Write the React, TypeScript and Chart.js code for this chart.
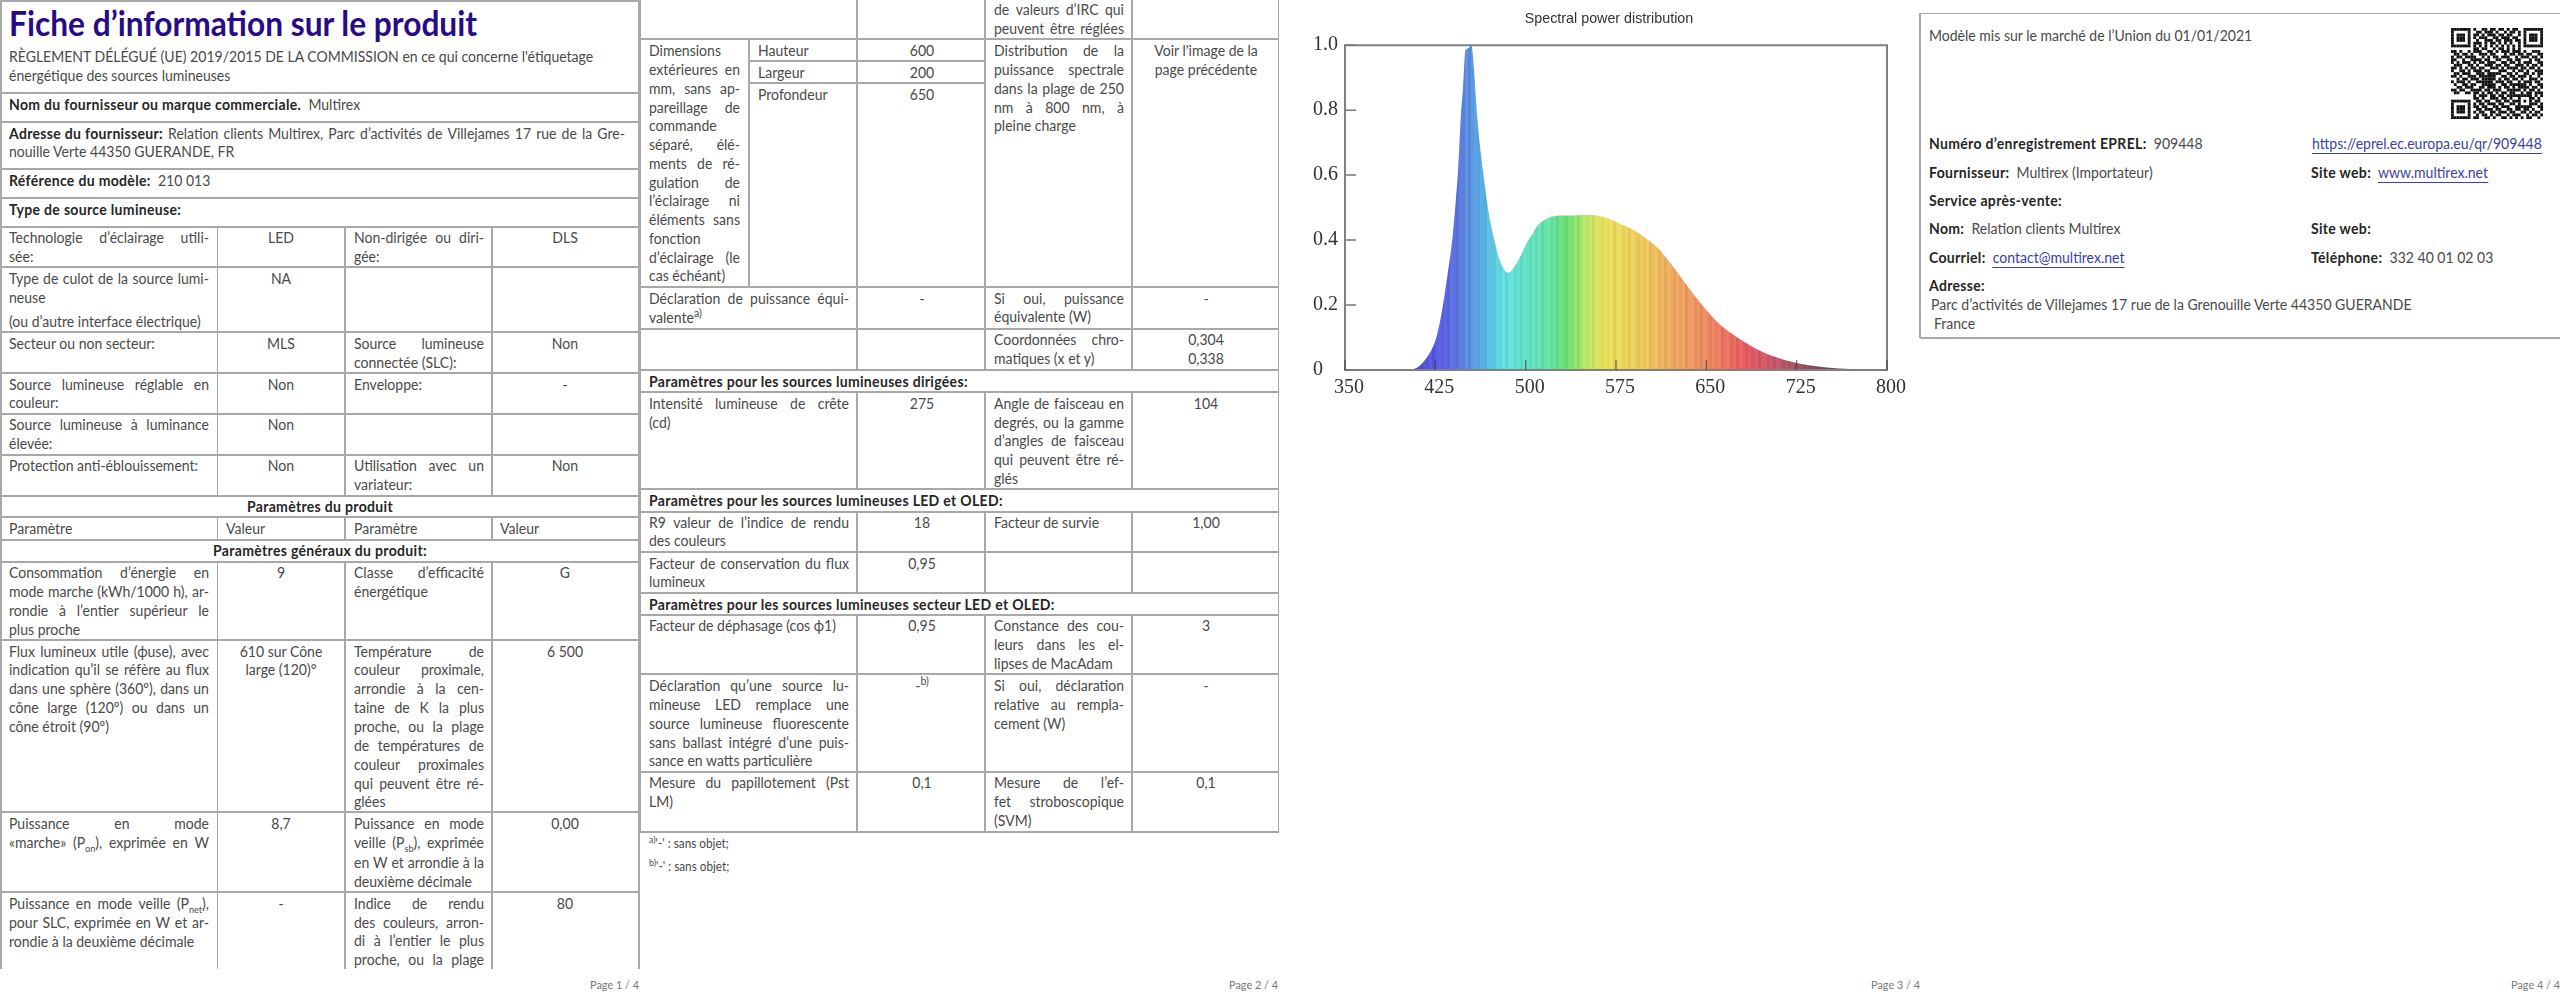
import React, { useEffect, useRef } from "react";
import { Chart, registerables } from "chart.js";

Chart.register(...registerables);

// ---- Chart data ----
const chartTitle = "Spectral power distribution";
const wavelengths = [350, 380, 400, 405, 410, 415, 420, 425, 430, 435, 439, 442, 444, 446, 448, 450, 452, 455, 457, 460, 463, 465, 468, 471, 474, 477, 480, 483, 485, 487, 490, 495, 500, 505, 510, 515, 520, 530, 540, 550, 560, 570, 580, 590, 600, 610, 620, 630, 640, 650, 660, 670, 680, 690, 700, 710, 720, 730, 740, 750, 760, 770, 780, 790, 800];
const powers = [0, 0, 0.001, 0.002, 0.008, 0.025, 0.05, 0.09, 0.17, 0.29, 0.4, 0.523, 0.62, 0.77, 0.87, 0.985, 0.99, 1, 0.93, 0.77, 0.66, 0.6, 0.515, 0.45, 0.4, 0.355, 0.325, 0.305, 0.3, 0.302, 0.315, 0.345, 0.385, 0.415, 0.445, 0.46, 0.47, 0.476, 0.476, 0.478, 0.475, 0.465, 0.447, 0.43, 0.405, 0.375, 0.33, 0.28, 0.23, 0.185, 0.145, 0.115, 0.09, 0.068, 0.05, 0.037, 0.026, 0.018, 0.012, 0.008, 0.005, 0.003, 0.001, 0, 0];
const xTicks = [350, 425, 500, 575, 650, 725, 800];
const yTicks = [0, 0.2, 0.4, 0.6, 0.8, 1];
const bandWavelengths = [400, 425, 440, 450, 462, 475, 485, 500, 520, 535, 550, 565, 585, 605, 625, 650, 670, 685, 705, 730, 780];
const bandColours = ["#4a44c8", "#5a5be2", "#5c6fe0", "#5c86dc", "#58a8e2", "#5fd0e2", "#66e0de", "#62e0c4", "#68e0a4", "#6ce070", "#bce66a", "#e8e05c", "#ecd35c", "#ecbf5e", "#eca862", "#ec8a62", "#ea7060", "#e65a62", "#c85a6a", "#985060", "#603840"];
const stripeShades = [0, -7, 3, -3, 6, -9, 1, 4, -5, 2, -8, 5];

// ---- Document text ----
const heading = "Fiche d’information sur le produit";
const introLines = ["RÈGLEMENT DÉLÉGUÉ (UE) 2019/2015 DE LA COMMISSION en ce qui concerne l'étiquetage", "énergétique des sources lumineuses"];

type Row = [number, string, string];
// [y, kind, text] kind: L left, J justified, C centred
const page1Col1: Row[] = [
  [237, "J", "Technologie d’éclairage utili-"], [256, "L", "sée:"],
  [278, "J", "Type de culot de la source lumi-"], [297, "L", "neuse"], [321, "L", "(ou d’autre interface électrique)"],
  [343, "L", "Secteur ou non secteur:"],
  [384, "J", "Source lumineuse réglable en"], [402, "L", "couleur:"],
  [424, "J", "Source lumineuse à luminance"], [443, "L", "élevée:"],
  [465, "L", "Protection anti-éblouissement:"],
  [528, "L", "Paramètre"],
  [572, "J", "Consommation d’énergie en"], [591, "J", "mode marche (kWh/1000 h), ar-"], [610, "J", "rondie à l’entier supérieur le"], [629, "L", "plus proche"],
  [651, "J", "Flux lumineux utile (ϕuse), avec"], [669, "J", "indication qu’il se réfère au flux"], [688, "J", "dans une sphère (360º), dans un"], [707, "J", "cône large (120º) ou dans un"], [726, "L", "cône étroit (90º)"],
  [823, "J", "Puissance en mode"], [842, "J", "«marche» (P_on_), exprimée en W"],
  [903, "J", "Puissance en mode veille (P_net_),"], [922, "J", "pour SLC, exprimée en W et ar-"], [941, "L", "rondie à la deuxième décimale"],
];
const page1Col2: Row[] = [
  [237, "C", "LED"], [278, "C", "NA"], [343, "C", "MLS"], [384, "C", "Non"], [424, "C", "Non"], [465, "C", "Non"],
  [572, "C", "9"], [651, "C", "610 sur Cône"], [669, "C", "large (120)°"], [823, "C", "8,7"], [903, "C", "-"],
];
const page1Col3: Row[] = [
  [237, "J", "Non-dirigée ou diri-"], [256, "L", "gée:"],
  [343, "J", "Source lumineuse"], [362, "L", "connectée (SLC):"],
  [384, "L", "Enveloppe:"],
  [465, "J", "Utilisation avec un"], [484, "L", "variateur:"],
  [528, "L", "Paramètre"],
  [572, "J", "Classe d’efficacité"], [591, "L", "énergétique"],
  [651, "J", "Température de"], [669, "J", "couleur proximale,"], [688, "J", "arrondie à la cen-"], [707, "J", "taine de K la plus"], [726, "J", "proche, ou la plage"], [745, "J", "de températures de"], [764, "J", "couleur proximales"], [783, "J", "qui peuvent être ré-"], [801, "L", "glées"],
  [823, "J", "Puissance en mode"], [842, "J", "veille (P_sb_), exprimée"], [862, "J", "en W et arrondie à la"], [881, "L", "deuxième décimale"],
  [903, "J", "Indice de rendu"], [922, "J", "des couleurs, arron-"], [940, "J", "di à l’entier le plus"], [959, "J", "proche, ou la plage"],
];
const page1Col4: Row[] = [
  [237, "C", "DLS"], [343, "C", "Non"], [384, "C", "-"], [465, "C", "Non"],
  [572, "C", "G"], [651, "C", "6 500"], [823, "C", "0,00"], [903, "C", "80"],
];
const page2Col1: Row[] = [
  [298, "J", "Déclaration de puissance équi-"], [317, "L", "valente^a)^"],
  [403, "J", "Intensité lumineuse de crête"], [422, "L", "(cd)"],
  [522, "J", "R9 valeur de l’indice de rendu"], [540, "L", "des couleurs"],
  [563, "J", "Facteur de conservation du flux"], [581, "L", "lumineux"],
  [625, "L", "Facteur de déphasage (cos ϕ1)"],
  [685, "J", "Déclaration qu’une source lu-"], [704, "J", "mineuse LED remplace une"], [723, "J", "source lumineuse fluorescente"], [742, "J", "sans ballast intégré d’une puis-"], [760, "L", "sance en watts particulière"],
  [782, "J", "Mesure du papillotement (Pst"], [801, "L", "LM)"],
];
const page2Narrow: Row[] = [
  [50, "L", "Dimensions"], [69, "J", "extérieures en"], [88, "J", "mm, sans ap-"], [107, "J", "pareillage de"], [125, "L", "commande"], [144, "J", "séparé, élé-"], [163, "J", "ments de ré-"], [182, "J", "gulation de"], [200, "J", "l’éclairage ni"], [219, "J", "éléments sans"], [238, "L", "fonction"], [257, "J", "d’éclairage (le"], [275, "L", "cas échéant)"],
];
const page2Sub: Row[] = [[50, "L", "Hauteur"], [72, "L", "Largeur"], [94, "L", "Profondeur"]];
const page2Col2: Row[] = [
  [50, "C", "600"], [72, "C", "200"], [94, "C", "650"], [298, "C", "-"], [403, "C", "275"], [522, "C", "18"], [563, "C", "0,95"], [625, "C", "0,95"], [685, "C", "-^b)^"], [782, "C", "0,1"],
];
const page2Col3: Row[] = [
  [9, "J", "de valeurs d’IRC qui"], [28, "J", "peuvent être réglées"],
  [50, "J", "Distribution de la"], [69, "J", "puissance spectrale"], [88, "J", "dans la plage de 250"], [107, "J", "nm à 800 nm, à"], [125, "L", "pleine charge"],
  [298, "J", "Si oui, puissance"], [316, "L", "équivalente (W)"],
  [339, "J", "Coordonnées chro-"], [358, "L", "matiques (x et y)"],
  [403, "J", "Angle de faisceau en"], [422, "J", "degrés, ou la gamme"], [440, "J", "d’angles de faisceau"], [459, "J", "qui peuvent être ré-"], [478, "L", "glés"],
  [522, "L", "Facteur de survie"],
  [625, "J", "Constance des cou-"], [644, "J", "leurs dans les el-"], [663, "L", "lipses de MacAdam"],
  [685, "J", "Si oui, déclaration"], [704, "J", "relative au rempla-"], [723, "L", "cement (W)"],
  [782, "J", "Mesure de l’ef-"], [801, "J", "fet stroboscopique"], [820, "L", "(SVM)"],
];
const page2Col4: Row[] = [
  [50, "C", "Voir l'image de la"], [69, "C", "page précédente"], [298, "C", "-"], [339, "C", "0,304"], [358, "C", "0,338"], [403, "C", "104"], [522, "C", "1,00"], [625, "C", "3"], [685, "C", "-"], [782, "C", "0,1"],
];
const qrRows = [
  "1111111 0100110110110101100 1111111",
  "1000001 0011011101001011010 1000001",
  "1011101 0110101110110110010 1011101",
  "1011101 0101110011011101100 1011101",
  "1011101 0010011101101110110 1011101",
  "1000001 0111010110101010010 1000001",
  "1111111 0101010101010101010 1111111",
  "000000001101100101101010100000000",
  "110100101110011010111011101001110",
  "011011010011101100010110110110011",
  "101101111001010110111001011101101",
  "110010011110110011001101100010110",
  "101011101011011100110110101110011",
  "011100110100111011011001110101101",
  "110101011011001110101111011011010",
  "100110101110110001110010110100111",
  "011011100111011111001101001101011",
  "110100111011111100110110111010010",
  "001011011101111101011011010011101",
  "101110100111111011101100101110110",
  "010011011001111100110111111010011",
  "001101110011011101011010111101101",
  "110110011110110111001111101011010",
  "011001101101011010110110010110111",
  "00000000 1011101101101111 11111 0101",
  "00000000 1101001110110100 10001 1010",
  "1111111 0 0110110011011011 10101 0110",
  "1000001 0 1011011101100110 10001 1101",
  "1011101 0 1101100110111001 11111 0011",
  "1011101 0 0110111011001101 101101001",
  "1011101 0 1011001101110110 011010110",
  "1000001 0 0101101011001011 100101101",
  "1111111 0 1100110100110101 010110010",
];

const FONT = "Lato, 'Noto Sans', sans-serif";
const SIZE = 15.5;
const SQUEEZE = 0.905;
const TEXT = "#4a4a4a";
const BOLD = "#262626";
const LINK = "#3b3fa8";
const RULE = "#a8a8a8";

function rich(text: string) {
  const parts = text.split(/(_\w+_|\^[^^]+\^)/).filter(Boolean);
  return parts.map((p, i) => {
    if (/^_\w+_$/.test(p)) return <sub key={i} style={{ fontSize: "0.65em", lineHeight: 0 }}>{p.slice(1, -1)}</sub>;
    if (/^\^.+\^$/.test(p)) return <sup key={i} style={{ fontSize: "0.75em", lineHeight: 0 }}>{p.slice(1, -1)}</sup>;
    return <React.Fragment key={i}>{p}</React.Fragment>;
  });
}

function Line(props: { x: number; y: number; children: any; center?: boolean; right?: boolean; style?: any }) {
  const { x, y, center, right, style } = props;
  return (
    <div
      style={{
        position: "absolute", left: x, top: y - 10, height: 20, lineHeight: "20px", whiteSpace: "pre",
        fontFamily: FONT, fontSize: SIZE, color: TEXT,
        transformOrigin: center ? "center" : right ? "right" : "left",
        transform: `${center ? "translateX(-50%) " : right ? "translateX(-100%) " : ""}scaleX(${SQUEEZE})`,
        ...style,
      }}
    >
      {props.children}
    </div>
  );
}

function justifiedStyle(x: number, y: number, w: number) {
  return {
    position: "absolute", left: x, top: y - 10, width: w / SQUEEZE, height: 20, lineHeight: "20px",
    display: "flex", justifyContent: "space-between", fontFamily: FONT, fontSize: SIZE, color: TEXT,
    whiteSpace: "pre", transformOrigin: "left", transform: `scaleX(${SQUEEZE})`,
  } as any;
}

function Column({ rows, x, w, cx }: { rows: Row[]; x?: number; w?: number; cx?: number }) {
  return (
    <>
      {rows.map(([y, kind, text], i) => {
        if (kind === "C") return <Line key={i} x={cx as number} y={y} center>{rich(text)}</Line>;
        if (kind === "J") {
          const words = text.split(" ");
          return (
            <div key={i} style={justifiedStyle(x as number, y, w as number)}>
              {words.map((word, k) => <span key={k}>{rich(word)}</span>)}
            </div>
          );
        }
        return <Line key={i} x={x as number} y={y}>{rich(text)}</Line>;
      })}
    </>
  );
}

function H({ x1, x2, y }: { x1: number; x2: number; y: number }) {
  return <div style={{ position: "absolute", left: x1, top: y - 0.75, width: x2 - x1, height: 1.5, background: RULE }} />;
}
function V({ x, y1, y2 }: { x: number; y1: number; y2: number }) {
  return <div style={{ position: "absolute", left: x - 0.75, top: y1, width: 1.5, height: y2 - y1, background: RULE }} />;
}

function shade(hex: string, d: number) {
  const n = parseInt(hex.slice(1), 16);
  const c = (v: number) => Math.max(0, Math.min(255, v + d));
  return `rgb(${c((n >> 16) & 255)},${c((n >> 8) & 255)},${c(n & 255)})`;
}
function bandAt(nm: number) {
  for (let i = 1; i < bandWavelengths.length; i++) {
    if (nm <= bandWavelengths[i]) {
      const a = bandWavelengths[i - 1], b = bandWavelengths[i];
      const t = Math.max(0, (nm - a) / (b - a));
      const A = parseInt(bandColours[i - 1].slice(1), 16), B = parseInt(bandColours[i].slice(1), 16);
      const mix = (s: number) => Math.round(((A >> s) & 255) * (1 - t) + ((B >> s) & 255) * t);
      return "#" + ((1 << 24) + (mix(16) << 16) + (mix(8) << 8) + mix(0)).toString(16).slice(1);
    }
  }
  return bandColours[bandColours.length - 1];
}

const framePlugin = {
  id: "frame",
  afterDatasetsDraw(chart: any) {
    const { ctx, chartArea: a, scales } = chart;
    ctx.save();
    ctx.strokeStyle = "#808080";
    ctx.lineWidth = 2;
    ctx.beginPath();
    ctx.rect(a.left, a.top, a.right - a.left, a.bottom - a.top);
    ctx.stroke();
    // inward tick marks, placed by the library's scales
    ctx.beginPath();
    ctx.lineWidth = 1.5;
    ctx.strokeStyle = "#777777";
    yTicks.forEach((v) => {
      const py = scales.y.getPixelForValue(v);
      ctx.moveTo(a.left, py);
      ctx.lineTo(a.left + 11, py);
    });
    ctx.stroke();
    ctx.beginPath();
    ctx.lineWidth = 1.2;
    ctx.strokeStyle = "rgba(60,60,60,0.75)";
    xTicks.forEach((v) => {
      const px = scales.x.getPixelForValue(v);
      ctx.moveTo(px, a.bottom);
      ctx.lineTo(px, a.bottom - 10);
    });
    ctx.stroke();
    ctx.restore();
  },
};

function SpectrumChart() {
  const ref = useRef<HTMLCanvasElement | null>(null);
  useEffect(() => {
    const chart = new Chart(ref.current as HTMLCanvasElement, {
      type: "line",
      data: {
        datasets: [
          {
            label: chartTitle,
            data: wavelengths.map((x, i) => ({ x, y: powers[i] })),
            parsing: false,
            pointRadius: 0,
            borderWidth: 0,
            cubicInterpolationMode: "monotone",
            fill: "origin",
            backgroundColor: (c: any) => {
              const { chart: ch } = c;
              if (!ch.chartArea) return "#6ce070";
              const sx = ch.scales.x;
              const x0 = sx.getPixelForValue(350), x1 = sx.getPixelForValue(800);
              const g = ch.ctx.createLinearGradient(x0, 0, x1, 0);
              const step = 2.5;
              let k = 0;
              for (let nm = 350; nm < 800; nm += step, k++) {
                const col = shade(bandAt(nm + step / 2), stripeShades[k % stripeShades.length]);
                g.addColorStop((nm - 350) / 450, col);
                g.addColorStop(Math.min(1, (nm + step - 350) / 450), col);
              }
              return g;
            },
          },
        ],
      },
      options: {
        responsive: false,
        animation: false,
        devicePixelRatio: 1,
        layout: { padding: 0, autoPadding: false },
        plugins: {
          legend: { display: false },
          tooltip: { enabled: false },
          title: {
            display: true,
            text: chartTitle,
            color: "#333333",
            font: { family: "'Liberation Sans', Arial, sans-serif", size: 14.3, weight: "normal" },
            padding: { top: 10, bottom: 18 },
          },
        },
        scales: {
          x: {
            type: "linear",
            min: 350,
            max: 800,
            afterBuildTicks: (s: any) => { s.ticks = xTicks.map((value) => ({ value })); },
            afterFit: (s: any) => { s.height = 50; },
            border: { display: false },
            grid: { display: false, drawTicks: false },
            ticks: { color: "#333333", padding: 6, labelOffset: 4, maxRotation: 0, autoSkip: false, font: { family: "'Liberation Serif', serif", size: 20 }, callback: (v: any) => String(v) },
          },
          y: {
            type: "linear",
            min: 0,
            max: 1,
            afterBuildTicks: (s: any) => { s.ticks = yTicks.map((value) => ({ value })); },
            afterFit: (s: any) => { s.width = 32; },
            border: { display: false },
            grid: { display: false, drawTicks: false },
            ticks: { color: "#333333", padding: 8, crossAlign: "far", font: { family: "'Liberation Serif', serif", size: 20 }, callback: (v: any) => (v === 0 ? "0" : Number(v).toFixed(1)) },
          },
          leftGutter: {
            type: "linear",
            position: "left",
            weight: 5,
            afterFit: (s: any) => { s.width = 13; },
            border: { display: false },
            grid: { display: false },
            ticks: { display: false },
          },
          rightGutter: {
            type: "linear",
            position: "right",
            afterFit: (s: any) => { s.width = 31; },
            border: { display: false },
            grid: { display: false },
            ticks: { display: false },
          },
        },
      },
      plugins: [framePlugin],
    } as any);
    return () => chart.destroy();
  }, []);
  return <canvas ref={ref} width={618} height={420} style={{ position: "absolute", left: 1300, top: 0, width: 618, height: 420 }} />;
}

function Qr() {
  const cells: any[] = [];
  qrRows.forEach((row, r) => {
    row.replace(/ /g, "").split("").forEach((c, q) => {
      if (c === "1") cells.push(<rect key={`${r}-${q}`} x={q} y={r} width={1.02} height={1.02} fill="#111" />);
    });
  });
  return (
    <svg viewBox="0 0 33 33" preserveAspectRatio="none" style={{ position: "absolute", left: 2451, top: 28, width: 92, height: 91 }}>
      {cells}
    </svg>
  );
}

const Bt = ({ children }: any) => <span style={{ fontWeight: 700, color: BOLD, letterSpacing: 0.35 }}>{children}</span>;
const A = ({ children }: any) => <span style={{ color: LINK, borderBottom: `1px solid ${LINK}`, paddingBottom: 1 }}>{children}</span>;

export default function App() {
  useEffect(() => {
    document.body.style.margin = "0";
    document.body.style.background = "#fff";
    document.documentElement.style.overflow = "hidden";
  }, []);
  const page1H: [number, number, number][] = [[0, 639, 0.75], [0, 639, 93], [0, 639, 122], [0, 639, 169], [0, 639, 198], [0, 639, 227], [0, 639, 267], [0, 639, 332], [0, 639, 373], [0, 639, 414], [0, 639, 455], [0, 639, 496], [0, 639, 517], [0, 639, 540], [0, 639, 562], [0, 639, 640], [0, 639, 812], [0, 639, 892]];
  const page2H: [number, number, number][] = [[640, 1278.5, 39], [749, 985, 61], [749, 985, 83], [640, 1278.5, 287], [640, 1278.5, 329], [640, 1278.5, 370], [640, 1278.5, 392], [640, 1278.5, 489], [640, 1278.5, 512], [640, 1278.5, 552], [640, 1278.5, 593], [640, 1278.5, 615], [640, 1278.5, 674], [640, 1278.5, 772], [640, 1278.5, 832]];
  const page1V: [number, number, number][] = [[0.75, 0, 969], [639, 0, 969], [217.5, 227, 496], [345, 227, 496], [492, 227, 496], [217.5, 517, 540], [345, 517, 540], [492, 517, 540], [217.5, 562, 969], [345, 562, 969], [492, 562, 969]];
  const page2V: [number, number, number][] = [[640, 0, 832], [1278.5, 0, 832], [749, 39, 287]];
  [857, 985, 1132].forEach((x) => {
    page2V.push([x, 0, 370], [x, 392, 489], [x, 512, 593], [x, 615, 832]);
  });
  return (
    <div style={{ position: "relative", width: 2560, height: 1001, overflow: "hidden", background: "#fff" }}>
      {page1H.concat(page2H).map(([a, b, y], i) => <H key={i} x1={a} x2={b} y={y} />)}
      {page1V.concat(page2V).map(([x, a, b], i) => <V key={i} x={x} y1={a} y2={b} />)}

      <Line x={9} y={20} style={{ fontSize: 35, fontWeight: 700, color: "#270b87", height: 42, lineHeight: "42px", top: 1 }}>{heading}</Line>
      <Line x={9} y={56}>{introLines[0]}</Line>
      <Line x={9} y={75}>{introLines[1]}</Line>
      <Line x={9} y={104}><Bt>Nom du fournisseur ou marque commerciale.</Bt>{"  Multirex"}</Line>
      <div style={justifiedStyle(9, 133, 616)}>
        <Bt>Adresse du fournisseur:</Bt>
        {"Relation clients Multirex, Parc d’activités de Villejames 17 rue de la Gre-".split(" ").map((w, i) => <span key={i}>{w}</span>)}
      </div>
      <Line x={9} y={151}>nouille Verte 44350 GUERANDE, FR</Line>
      <Line x={9} y={180}><Bt>Référence du modèle:</Bt>{"  210 013"}</Line>
      <Line x={9} y={209}><Bt>Type de source lumineuse:</Bt></Line>
      <Line x={320} y={506} center><Bt>Paramètres du produit</Bt></Line>
      <Line x={320} y={550} center><Bt>Paramètres généraux du produit:</Bt></Line>
      <Line x={226} y={528}>Valeur</Line>
      <Line x={500} y={528}>Valeur</Line>
      <Column rows={page1Col1} x={9} w={200} />
      <Column rows={page1Col2} cx={281} />
      <Column rows={page1Col3} x={353.5} w={130} />
      <Column rows={page1Col4} cx={565} />
      <Line x={639} y={985} right style={{ fontSize: 12, color: "#777" }}>Page 1 / 4</Line>

      <Column rows={page2Narrow} x={649} w={91} />
      <Column rows={page2Sub} x={758} />
      <Column rows={page2Col1} x={649} w={200} />
      <Column rows={page2Col2} cx={921.5} />
      <Column rows={page2Col3} x={993.6} w={130} />
      <Column rows={page2Col4} cx={1205.5} />
      <Line x={649} y={381}><Bt>Paramètres pour les sources lumineuses dirigées:</Bt></Line>
      <Line x={649} y={500}><Bt>Paramètres pour les sources lumineuses LED et OLED:</Bt></Line>
      <Line x={649} y={604}><Bt>Paramètres pour les sources lumineuses secteur LED et OLED:</Bt></Line>
      <Line x={649} y={843} style={{ fontSize: 13 }}>{rich("^a)^'-' : sans objet;")}</Line>
      <Line x={649} y={866} style={{ fontSize: 13 }}>{rich("^b)^'-' : sans objet;")}</Line>
      <Line x={1278} y={985} right style={{ fontSize: 12, color: "#777" }}>Page 2 / 4</Line>

      <SpectrumChart />
      <Line x={1920} y={985} right style={{ fontSize: 12, color: "#777" }}>Page 3 / 4</Line>

      <V x={1920} y1={13} y2={338} />
      <H x1={1920} x2={2560} y={13.5} />
      <H x1={1920} x2={2560} y={338} />
      <Line x={1929} y={35}>Modèle mis sur le marché de l’Union du 01/01/2021</Line>
      <Qr />
      <Line x={1929} y={143}><Bt>Numéro d’enregistrement EPREL:</Bt>{"  909448"}</Line>
      <Line x={2312} y={143}><A>https://eprel.ec.europa.eu/qr/909448</A></Line>
      <Line x={1929} y={172}><Bt>Fournisseur:</Bt>{"  Multirex (Importateur)"}</Line>
      <Line x={2311} y={172}><Bt>Site web:</Bt>{"  "}<A>www.multirex.net</A></Line>
      <Line x={1929} y={200}><Bt>Service après-vente:</Bt></Line>
      <Line x={1929} y={228}><Bt>Nom:</Bt>{"  Relation clients Multirex"}</Line>
      <Line x={2311} y={228}><Bt>Site web:</Bt></Line>
      <Line x={1929} y={257}><Bt>Courriel:</Bt>{"  "}<A>contact@multirex.net</A></Line>
      <Line x={2311} y={257}><Bt>Téléphone:</Bt>{"  332 40 01 02 03"}</Line>
      <Line x={1929} y={285}><Bt>Adresse:</Bt></Line>
      <Line x={1931} y={304}>Parc d’activités de Villejames 17 rue de la Grenouille Verte 44350 GUERANDE</Line>
      <Line x={1934} y={323}>France</Line>
      <Line x={2560} y={985} right style={{ fontSize: 12, color: "#777" }}>Page 4 / 4</Line>
    </div>
  );
}
